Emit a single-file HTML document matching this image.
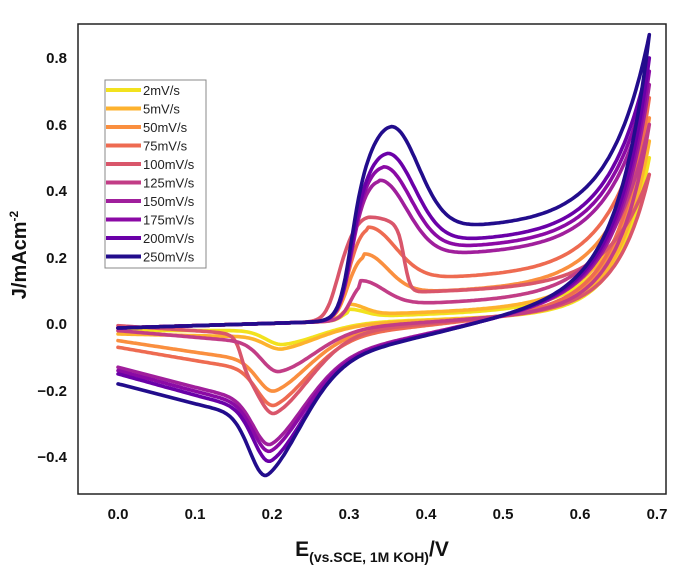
<!DOCTYPE html>
<html><head><meta charset="utf-8"><style>
html,body{margin:0;padding:0;background:#fff;}
svg{display:block;font-family:"Liberation Sans",Arial,sans-serif;}
</style></head><body>
<svg id="s" width="680" height="571" viewBox="0 0 680 571" xmlns="http://www.w3.org/2000/svg">
<rect x="0" y="0" width="680" height="571" fill="#fff"/>
<g id="curves" fill="none" stroke-width="3.6" stroke-linejoin="round" stroke-linecap="round"></g>
<rect x="78" y="24" width="588" height="470" fill="none" stroke="#222" stroke-width="1.5"/>
<g font-size="15" font-weight="bold" fill="#111" text-anchor="end">
<text x="67" y="63">0.8</text>
<text x="67" y="130">0.6</text>
<text x="67" y="196">0.4</text>
<text x="67" y="263">0.2</text>
<text x="67" y="329">0.0</text>
<text x="67" y="396">−0.2</text>
<text x="67" y="462">−0.4</text>
</g>
<g font-size="15" font-weight="bold" fill="#111" text-anchor="middle">
<text x="118" y="519">0.0</text>
<text x="195" y="519">0.1</text>
<text x="272" y="519">0.2</text>
<text x="349" y="519">0.3</text>
<text x="426" y="519">0.4</text>
<text x="503" y="519">0.5</text>
<text x="580" y="519">0.6</text>
<text x="657" y="519">0.7</text>
</g>
<text x="372" y="556" text-anchor="middle" font-weight="bold" fill="#111" font-size="21">E<tspan font-size="14" dy="6">(vs.SCE, 1M KOH)</tspan><tspan dy="-6">/V</tspan></text>
<text transform="translate(26,255) rotate(-90)" text-anchor="middle" font-weight="bold" fill="#111" font-size="20">J/mAcm<tspan font-size="12" dy="-8">-2</tspan></text>
<rect x="105" y="80" width="101" height="188" fill="#fff" stroke="#888" stroke-width="1"/>
<g id="leg" font-size="13" fill="#222"></g>
</svg>
<script>
var X=function(e){return 118+770*e;}, Y=function(j){return 324-332.5*j;};
function sig(x){return 1/(1+Math.exp(-x));}
var S=[
 ["2mV/s","#f2e21e",.035,.30,.012,.02,.29,.012,.50,0, -.02,0,.08,.05,.215,0],
 ["5mV/s","#fdb22e",.05,.30,.012,.02,.29,.018,.55,0, -.03,.05,.1,.05,.215,0],
 ["50mV/s","#fa8f3f",.20,.32,.03,.03,.295,.08,.62,0, -.05,.35,.2,.12,.205,0],
 ["75mV/s","#ee6b51",.28,.325,.03,.035,.295,.12,.68,0, -.07,.4,.25,.14,.205,0],
 ["100mV/s","#d9566b",.31,.325,.035,.08,.28,.08,.45,.372, -.005,.15,.2,.18,.205,.10],
 ["125mV/s","#c23d86",.12,.315,.02,.03,.30,.045,.60,0, -.02,.2,.15,.10,.21,0],
 ["150mV/s","#a01f9c",.42,.34,.04,.035,.30,.19,.72,0, -.13,.6,.5,.17,.20,0],
 ["175mV/s","#8b0aa5",.46,.345,.04,.035,.30,.21,.76,0, -.14,.62,.52,.18,.20,0],
 ["200mV/s","#6a00a8",.50,.35,.04,.035,.30,.23,.80,0, -.15,.64,.54,.20,.20,0],
 ["250mV/s","#220c8c",.58,.355,.04,.035,.30,.27,.87,0, -.18,.6,.55,.23,.195,0]
];
var g=document.getElementById("curves"),lg=document.getElementById("leg"),ns="http://www.w3.org/2000/svg";
S.forEach(function(p,i){
 var A=p[2],Ep=p[3],w1=p[4],w2=p[5],Eon=p[6],P=p[7],Jm=p[8],dr=p[9];
 var c0=p[10],m=p[11],h=p[12],C=p[13],Ec=p[14],st=p[15];
 var pts=[];
 function fw(E){
  var f0=-0.012+0.07*E;
  var rise=sig((E-Eon)/0.008);
  var gg=E<Ep?Math.exp(-Math.pow(E-Ep,2)/(2*w1*w1)):Math.exp(-Math.pow(E-Ep,2)/(2*w2*w2));
  if(dr) gg*=sig(-(E-dr)/0.004);
  var pre=E<Ep?rise:1;
  var v=f0+pre*(P+(A-P)*gg);
  v+=(Jm-(f0+P))*Math.exp((E-0.69)/0.05);
  return v;
 }
 function H(E){return 0.02+h*(E-0.5);}
 function L(E){var l=c0-m*E; if(st) l-=st*sig((E-0.16)/0.004); return l;}
 function rv(E){
  var s=sig((E-Ec)/0.02);
  var v=H(E)*s+L(E)*(1-s);
  var w=E<Ec?0.022:0.05;
  v-=C*Math.exp(-Math.pow(E-Ec,2)/(2*w*w));
  v+=(Jm-H(0.69))*Math.exp((E-0.69)/0.04);
  return v;
 }
 for(var E=0;E<=0.69001;E+=0.0025) pts.push([X(E),Y(fw(E))]);
 for(var E=0.69;E>=-0.0001;E-=0.0025) pts.push([X(E),Y(rv(E))]);
 var d="M"+pts.map(function(q){return q[0].toFixed(1)+","+q[1].toFixed(1);}).join("L");
 var pa=document.createElementNS(ns,"path");pa.setAttribute("d",d);pa.setAttribute("stroke",p[1]);g.appendChild(pa);
 var y=90+i*18.5;
 var l=document.createElementNS(ns,"line");l.setAttribute("x1",106);l.setAttribute("x2",141);l.setAttribute("y1",y);l.setAttribute("y2",y);l.setAttribute("stroke",p[1]);l.setAttribute("stroke-width",4);lg.appendChild(l);
 var t=document.createElementNS(ns,"text");t.setAttribute("x",143);t.setAttribute("y",y+5);t.textContent=p[0];lg.appendChild(t);
});
</script>
</body></html>
